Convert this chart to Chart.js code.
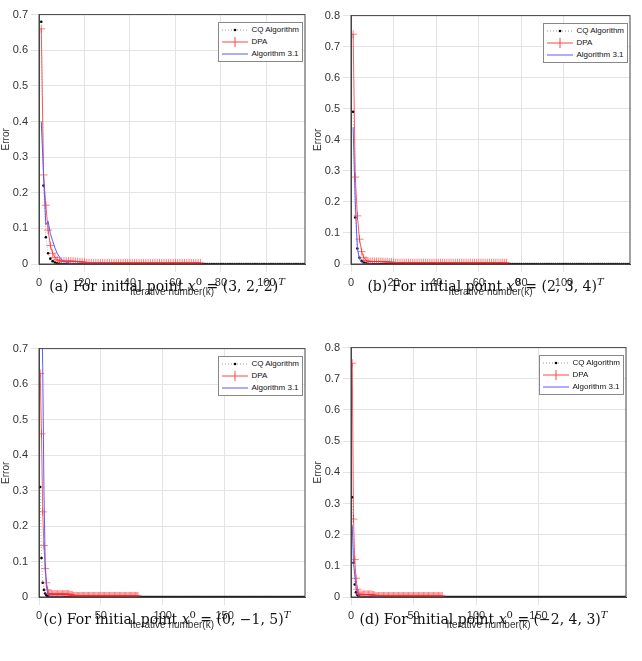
<!DOCTYPE html>
<html>
<head>
<meta charset="utf-8">
<script src="https://cdn.jsdelivr.net/npm/chart.js@4"></script>
<style>
  body { margin: 0; background: #fff; width: 642px; height: 661px; position: relative; overflow: hidden; }
  canvas { position: absolute; }
  .cap { position: absolute; font-family: "DejaVu Serif", "Liberation Serif", serif; font-size: 14px; color: #111; white-space: nowrap; transform: translateX(-50%); }
  .leg { position: absolute; border: 1px solid #888; background: #fff; font-family: "Liberation Sans", Arial, sans-serif; font-size: 8px; color: #111; padding: 1px 3px 1px 2px; white-space: nowrap; }
  .leg div { height: 12px; line-height: 12px; position: relative; padding-left: 30px; }
  .leg svg { position: absolute; left: 0; top: 0; }
</style>
</head>
<body>
<canvas id="ca"></canvas><canvas id="cb"></canvas><canvas id="cc"></canvas><canvas id="cd"></canvas>
<script>
// data: head values start at k=1, then a flat tail up to tailEnd
const cqA = [0.68, 0.22, 0.075, 0.03, 0.015, 0.008, 0.004, 0.002, 0.001];
const dpaA = [0.66, 0.25, 0.165, 0.095, 0.052, 0.03, 0.018, 0.012, 0.009, 0.008, 0.008, 0.008, 0.008, 0.008, 0.008, 0.007, 0.007, 0.006, 0.006, 0.005];
const algA = [0.40, 0.25, 0.11, 0.12, 0.085, 0.065, 0.045, 0.03, 0.02, 0.012, 0.008, 0.005, 0.003, 0.002];
const cqB = [0.49, 0.15, 0.05, 0.02, 0.01, 0.005, 0.002, 0.001];
const dpaB = [0.74, 0.28, 0.155, 0.08, 0.04, 0.02, 0.012, 0.009, 0.008, 0.008, 0.008, 0.008, 0.008, 0.008, 0.008, 0.007, 0.007, 0.006, 0.006, 0.005];
const algB = [0.44, 0.2, 0.05, 0.015, 0.005, 0.002];
const cqC = [0.31, 0.11, 0.04, 0.02, 0.01, 0.005, 0.002, 0.001];
const dpaC = [0.63, 0.46, 0.24, 0.145, 0.08, 0.04, 0.02, 0.01, 0.008, 0.008, 0.008, 0.008, 0.008, 0.008, 0.008, 0.008, 0.008, 0.008, 0.008, 0.008, 0.008, 0.008, 0.008, 0.008, 0.007, 0.006, 0.005];
const algC = [1.0, 0.85, 0.65, 0.3, 0.1, 0.03, 0.01, 0.004, 0.002];
const cqD = [0.32, 0.11, 0.04, 0.015, 0.007, 0.003, 0.001];
const dpaD = [0.75, 0.25, 0.12, 0.06, 0.025, 0.012, 0.008, 0.008, 0.008, 0.008, 0.008, 0.008, 0.008, 0.008, 0.008, 0.008, 0.007, 0.006, 0.005];
const algD = [0.23, 0.11, 0.07, 0.03, 0.012, 0.005, 0.002];
// [cq tail value, cq end, dpa tail, dpa end, alg tail, alg end]
const tails = {
  a: [0, 117, 0.003, 71, 0, 32],
  b: [0, 131, 0.004, 73, 0, 10],
  c: [0, 215, 0.003, 80, 0, 20],
  d: [0, 220, 0.003, 73, 0, 25]
};
const xMax = { a: 117, b: 131, c: 215, d: 220 };
const xStep = { a: 20, b: 20, c: 50, d: 50 };
const yMax = { a: 0.7, b: 0.8, c: 0.7, d: 0.8 };
const captions = { a: '(a)', b: '(b)', c: '(c)', d: '(d)' };
const initPts = { a: '(3, 2, 2)', b: '(2, 3, 4)', c: '(0, \u22121, 5)', d: '(\u22122, 4, 3)' };

function pts(head, tailVal, end) {
  const out = head.map((v, i) => ({ x: i + 1, y: v }));
  for (let k = head.length + 1; k <= end; k++) out.push({ x: k, y: tailVal });
  return out;
}

// plot area left/top/right/bottom in page px
const geo = {
  a: [39, 13, 305, 264],
  b: [351, 14, 630, 264],
  c: [39, 347, 305, 597],
  d: [351, 346, 626, 597]
};
const sets = { a: [cqA, dpaA, algA], b: [cqB, dpaB, algB], c: [cqC, dpaC, algC], d: [cqD, dpaD, algD] };
const ids = { a: 'ca', b: 'cb', c: 'cc', d: 'cd' };
const font = { family: '"Liberation Sans", Arial, sans-serif', size: 11 };

for (const p of ['a', 'b', 'c', 'd']) {
  const [l, t, r, b] = geo[p];
  const cv = document.getElementById(ids[p]);
  const yW = 39, xH = 34, padT = 8, padR = 6;
  const left = l - yW, top = t - padT;
  cv.style.left = left + 'px'; cv.style.top = top + 'px';
  cv.style.width = (r - left + padR) + 'px'; cv.style.height = (b - top + xH) + 'px';
  const tl = tails[p];
  const [cq, dpa, alg] = sets[p];
  const step = xStep[p];
  new Chart(cv, {
    type: 'line',
    data: { datasets: [
      { label: 'Algorithm 3.1', data: pts(alg, tl[4], tl[5]), borderColor: '#5a5aff', borderWidth: 1, pointRadius: 0, tension: 0 },
      { label: 'DPA', data: pts(dpa, tl[2], tl[3]), borderColor: 'rgba(255,60,60,0.85)', borderWidth: 1, pointStyle: 'cross', pointRadius: 4, pointBorderColor: 'rgba(255,40,40,0.6)', pointBorderWidth: 1, tension: 0 },
      { label: 'CQ Algorithm', data: pts(cq, tl[0], tl[1]), borderColor: '#999', borderWidth: 0.7, borderDash: [1, 2], pointRadius: 1.3, pointBackgroundColor: '#000', pointBorderWidth: 0, tension: 0 }
    ] },
    options: {
      animation: false, responsive: false, maintainAspectRatio: false,
      layout: { padding: { top: padT, right: padR, left: 0, bottom: 0 } },
      plugins: { legend: { display: false }, tooltip: { enabled: false } },
      scales: {
        x: { type: 'linear', min: 0, max: xMax[p],
          afterBuildTicks: s => { s.ticks = s.ticks.filter(tk => tk.value % step === 0); },
          ticks: { stepSize: step, font, color: '#333', maxRotation: 0, padding: 4 },
          grid: { color: '#e4e4e4' }, border: { color: '#444' },
          title: { display: true, text: 'Iterative number(k)', font: { family: font.family, size: 10 }, color: '#333', padding: { top: 2, bottom: 0 } },
          afterFit: s => { s.height = xH; } },
        y: { min: 0, max: yMax[p],
          ticks: { stepSize: 0.1, font, color: '#333' },
          grid: { color: '#e4e4e4' }, border: { color: '#444' },
          title: { display: true, text: 'Error', font: { family: font.family, size: 10 }, color: '#333', padding: 0 },
          afterFit: s => { s.width = yW; } }
      }
    },
    plugins: [{ id: 'box', afterDraw(c) {
      const a = c.chartArea, g = c.ctx;
      g.save(); g.strokeStyle = '#444'; g.lineWidth = 1;
      g.strokeRect(a.left, a.top, a.right - a.left, a.bottom - a.top); g.restore();
    } }]
  });

  // legend
  const lg = document.createElement('div');
  lg.className = 'leg';
  lg.style.right = (642 - r + 2) + 'px'; lg.style.top = (t + 9) + 'px';
  lg.innerHTML =
    '<div><svg width="28" height="12"><line x1="1" y1="6" x2="27" y2="6" stroke="#999" stroke-dasharray="1,2"/><circle cx="14" cy="6" r="1.3" fill="#000"/></svg>CQ Algorithm</div>' +
    '<div><svg width="28" height="12"><line x1="1" y1="6" x2="27" y2="6" stroke="#f44"/><line x1="14" y1="1" x2="14" y2="11" stroke="#f44"/></svg>DPA</div>' +
    '<div><svg width="28" height="12"><line x1="1" y1="6" x2="27" y2="6" stroke="#5a5aff"/></svg>Algorithm 3.1</div>';
  document.body.appendChild(lg);

  // caption
  const cap = document.createElement('div');
  cap.className = 'cap';
  cap.style.left = ((l + r) / 2 - 5) + 'px'; cap.style.top = (b + 12) + 'px';
  cap.innerHTML = captions[p] + ' For initial point <i>x</i><sup style="font-size:10px">0</sup> = ' + initPts[p] + '<sup style="font-size:10px"><i>T</i></sup>';
  document.body.appendChild(cap);
}
</script>
</body>
</html>
